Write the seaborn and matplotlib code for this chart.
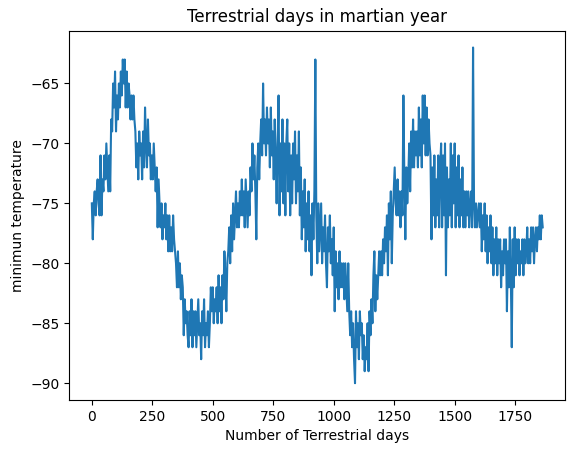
#
# Minimum temperature on Mars over one martian year (in terrestrial days)
#

import numpy as np
import pandas as pd
import matplotlib
matplotlib.use("Agg")
import matplotlib.pyplot as plt
import seaborn as sns

# one reading every 4 terrestrial days
step_days = 4
min_temp = [
    -75, -78, -75, -74, -76, -74, -73, -75, -76, -71, -76, -73, -74, -71, -73, -70, -72, -74, -71, -74,
    -68, -69, -65, -67, -64, -69, -66, -68, -65, -67, -64, -66, -63, -65, -63, -67, -64, -67, -65, -66,
    -68, -66, -68, -66, -68, -69, -72, -70, -73, -69, -71, -70, -73, -69, -72, -67, -70, -72, -68, -71,
    -70, -73, -71, -73, -70, -72, -74, -72, -77, -73, -75, -77, -75, -78, -76, -77, -75, -78, -76, -79,
    -76, -79, -77, -79, -76, -78, -79, -80, -82, -79, -82, -80, -83, -81, -82, -86, -83, -85, -84, -86,
    -87, -84, -86, -83, -87, -84, -86, -84, -87, -85, -83, -86, -85, -88, -84, -86, -83, -87, -85, -86,
    -84, -87, -85, -82, -84, -82, -85, -83, -84, -82, -85, -81, -84, -82, -85, -81, -83, -79, -81, -84,
    -80, -79, -77, -80, -76, -79, -75, -78, -76, -74, -77, -75, -77, -74, -76, -73, -76, -74, -77, -73,
    -75, -77, -74, -76, -72, -74, -70, -73, -71, -74, -78, -72, -70, -73, -70, -68, -71, -65, -70, -68,
    -71, -67, -70, -68, -72, -67, -71, -69, -73, -68, -71, -75, -70, -66, -76, -70, -74, -68, -75, -70,
    -76, -70, -68, -74, -70, -76, -71, -75, -70, -73, -69, -75, -71, -74, -69, -76, -72, -78, -74, -77,
    -73, -79, -75, -78, -74, -79, -76, -81, -75, -78, -74, -63, -76, -80, -75, -79, -77, -75, -80, -77,
    -79, -76, -80, -82, -77, -79, -76, -80, -78, -81, -77, -84, -79, -82, -80, -83, -79, -82, -80, -82,
    -80, -83, -80, -82, -84, -80, -84, -86, -84, -87, -85, -88, -90, -84, -87, -85, -88, -84, -86, -85,
    -88, -86, -89, -87, -88, -85, -89, -84, -86, -83, -85, -81, -79, -84, -81, -83, -81, -79, -81, -79,
    -81, -78, -80, -77, -79, -76, -81, -75, -78, -74, -80, -76, -74, -72, -75, -76, -73, -76, -74, -77,
    -74, -76, -66, -73, -78, -72, -75, -73, -70, -74, -69, -72, -68, -72, -69, -71, -69, -72, -67, -71,
    -68, -72, -66, -70, -66, -71, -67, -71, -68, -70, -71, -78, -72, -76, -71, -77, -73, -76, -71, -77,
    -72, -70, -77, -71, -76, -70, -81, -72, -77, -73, -76, -70, -77, -71, -75, -70, -77, -72, -76, -71,
    -77, -73, -76, -72, -77, -74, -77, -74, -76, -74, -77, -75, -74, -77, -62, -75, -77, -75, -77, -76,
    -75, -77, -75, -79, -76, -78, -75, -79, -76, -80, -77, -79, -76, -80, -77, -81, -78, -80, -77, -81,
    -78, -80, -78, -82, -79, -81, -78, -80, -78, -84, -79, -82, -77, -81, -87, -78, -82, -77, -81, -78,
    -80, -78, -81, -79, -80, -78, -81, -78, -80, -79, -77, -80, -78, -80, -77, -79, -77, -80, -78, -77,
    -79, -77, -78, -76, -78, -76, -77,
]
days = np.arange(len(min_temp)) * step_days

df = pd.DataFrame({"day": days, "min_temp": min_temp})

fig, ax = plt.subplots(figsize=(5.74, 4.53), dpi=100)
fig.subplots_adjust(left=0.1207, right=0.9848, top=0.9322, bottom=0.117)

sns.lineplot(data=df, x="day", y="min_temp", estimator=None, color="#1f77b4", linewidth=1.5, ax=ax)
ax.set_title("Terrestrial days in martian year")
ax.set_xlabel("Number of Terrestrial days")
ax.set_ylabel("minimun temperature")

fig.savefig("out.png", dpi=100)
